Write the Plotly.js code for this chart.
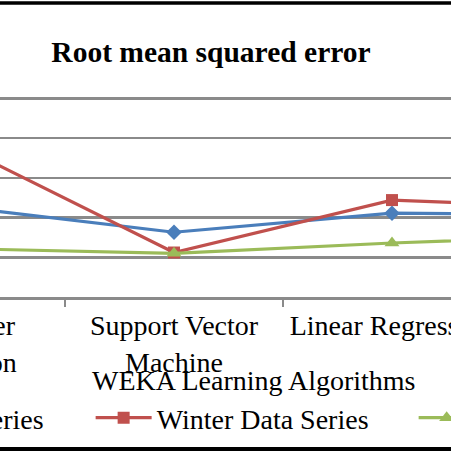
<!DOCTYPE html>
<html>
<head>
<meta charset="utf-8">
<script src="https://cdn.plot.ly/plotly-3.0.1.min.js"></script>
<style>
html, body { margin: 0; padding: 0; overflow: hidden; background: #fff; }
#wrap { position: relative; width: 451px; height: 451px; overflow: hidden; }
#rmse_graph { position: absolute; left: -400px; top: 0; width: 1500px; height: 451px; }
</style>
</head>
<body>
<div id="wrap"><div id="rmse_graph"></div></div>
<script>
// Root mean squared error per WEKA algorithm (the picture is a crop of a wider chart)
const algorithms = [
	"Multilayer<br>Perceptron",
	"Support Vector<br>Machine",
	"Linear Regression",
	"Gaussian<br>Processes",
];
const spring_rmse = [0.228, 0.163, 0.211, 0.207];
const winter_rmse = [0.385, 0.112, 0.244, 0.222];
const summer_rmse = [0.122, 0.110, 0.136, 0.156];
const series_names = ["Spring Data Series", "Winter Data Series", "Summer Data Series"];
const x_title = "WEKA Learning Algorithms";

const serif = "Liberation Serif, Times New Roman, serif";
const grid_grey = "#8a8a8a";
const fig_w = 1500;

function seriesTrace(values, name, color, symbol, size) {
	return {
		x: algorithms,
		y: values,
		type: "scatter",
		mode: "lines+markers",
		name: name,
		line: { color: color, width: 3.2 },
		marker: { color: color, symbol: symbol, size: size },
	};
}

// black frame of the chart area: only its top and bottom edges fall inside the crop
function frameEdge(py, w) {
	return {
		type: "line",
		xref: "paper",
		yref: "paper",
		x0: -0.3,
		x1: 1.2,
		y0: py,
		y1: py,
		line: { color: "#000", width: w },
		layer: "above",
	};
}

let data = [
		seriesTrace(spring_rmse, series_names[0], "#4a7ebb", "diamond", 12),
		seriesTrace(winter_rmse, series_names[1], "#c0504d", "square", 12),
		seriesTrace(summer_rmse, series_names[2], "#9bbb59", "triangle-up", 13),
	],
	layout = {
		width: fig_w,
		height: 451,
		title: {
			text: "<b>Root mean squared error</b>",
			font: { family: serif, size: 29.5, color: "#000" },
			xref: "container",
			x: 611 / fig_w,
			xanchor: "center",
			yref: "container",
			y: 1 - 52 / 451,
			yanchor: "middle",
		},
		paper_bgcolor: "#ffffff",
		plot_bgcolor: "#ffffff",
		showlegend: true,
		legend: {
			orientation: "h",
			xref: "paper",
			x: -0.0975,
			xanchor: "left",
			yref: "paper",
			y: -0.605,
			yanchor: "middle",
			bgcolor: "rgba(0,0,0,0)",
			font: { family: serif, size: 28, color: "#000" },
			itemwidth: 56,
			entrywidth: 252,
			traceorder: "normal",
		},
		margin: { l: 247, r: fig_w - 1061, t: 97, b: 154, pad: 0, autoexpand: false },
		xaxis: {
			type: "category",
			range: [-0.5, 3.234],
			showgrid: false,
			showline: true,
			linecolor: grid_grey,
			linewidth: 2.5,
			ticks: "outside",
			tickson: "boundaries",
			ticklen: 7,
			tickwidth: 2,
			tickcolor: grid_grey,
			tickangle: 0,
			ticklabelstandoff: 2,
			tickfont: { family: serif, size: 28, color: "#000" },
			zeroline: false,
		},
		yaxis: {
			type: "linear",
			range: [0, 0.5035],
			dtick: 0.1,
			showgrid: true,
			gridcolor: grid_grey,
			gridwidth: 2.5,
			showticklabels: false,
			zeroline: false,
			showline: false,
		},
		// axis title sits tight under the two-line tick labels, as in the source chart
		annotations: [
			{
				text: x_title,
				xref: "paper",
				x: 0.5,
				xanchor: "center",
				yref: "paper",
				y: (297 - 380) / 200,
				yanchor: "middle",
				showarrow: false,
				font: { family: serif, size: 28, color: "#000" },
			},
		],
		shapes: [frameEdge((297 - 3) / 200, 3.5), frameEdge((297 - 449) / 200, 4)],
	};

Plotly.newPlot("rmse_graph", data, layout, { staticPlot: true, displayModeBar: false });
</script>
</body>
</html>
